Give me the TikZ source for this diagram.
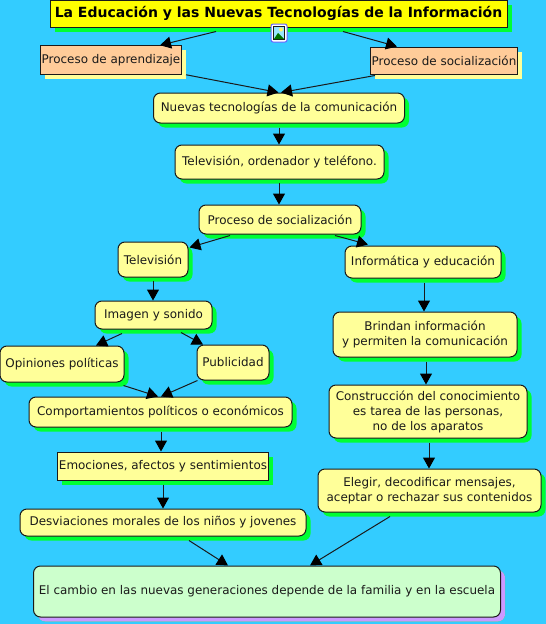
\documentclass[tikz,border=0pt]{standalone}
\usepackage{fontspec}
\setmainfont{DejaVu Sans}
\usetikzlibrary{arrows.meta,shadows}
\definecolor{skyback}  {HTML}{33CCFF}
\definecolor{ink}      {HTML}{1A1A1A}
\definecolor{shadegreen}{HTML}{00FF33}
\definecolor{shadelilac}{HTML}{CC99FF}
\definecolor{paleyellow}{HTML}{FFFF99}
\definecolor{titleyellow}{HTML}{FFFF00}
\definecolor{peach}    {HTML}{FFCC99}
\definecolor{palegreen}{HTML}{CCFFCC}
\tikzset{
  conceptbox/.style={draw=ink,line width=1pt,fill=paleyellow,inner sep=0pt,align=center,text=ink,
    drop shadow={shadow xshift=4.5pt,shadow yshift=-4.5pt,opacity=1,fill=shadegreen}},
  roundbox/.style={conceptbox,rounded corners=7pt},
  titlebox/.style={conceptbox,fill=titleyellow,text=black,font=\fontsize{14}{16}\selectfont\bfseries},
  peachbox/.style={conceptbox,fill=peach,
    drop shadow={shadow xshift=4.5pt,shadow yshift=-4.5pt,opacity=1,fill=paleyellow}},
  endbox/.style={roundbox,fill=palegreen,
    drop shadow={shadow xshift=4.5pt,shadow yshift=-4.5pt,opacity=1,fill=shadelilac}},
  link/.style={draw=ink,line width=1pt,-{Triangle[length=11pt,width=12pt,color=black]}},
}
\begin{document}
\begin{tikzpicture}[x=1pt,y=-1pt,font=\fontsize{11.95}{15}\selectfont]
  \useasboundingbox (0,0) rectangle (546,624);
  \fill[skyback] (0,0) rectangle (546,624);

  % top row
  \node[titlebox,minimum width=457pt,minimum height=27pt] (title) at (278.5,13.5) {La Educación y las Nuevas Tecnologías de la Información};
  \node[peachbox,minimum width=141pt,minimum height=28.5pt] (aprend) at (111,60) {Proceso de aprendizaje};
  \node[peachbox,minimum width=147.5pt,minimum height=27pt] (socialtop) at (444,60.5) {Proceso de socialización};

  % middle column
  \node[roundbox,minimum width=251pt,minimum height=30pt] (nuevas) at (279,108) {Nuevas tecnologías de la comunicación};
  \node[roundbox,minimum width=209pt,minimum height=34pt] (tvord) at (279.5,162) {Televisión, ordenador y teléfono.};
  \node[roundbox,minimum width=162pt,minimum height=29pt] (social) at (280,219.5) {Proceso de socialización};

  % left branch
  \node[roundbox,minimum width=70pt,minimum height=35pt] (telev) at (153,259.5) {Televisión};
  \node[roundbox,minimum width=117pt,minimum height=28pt] (imagen) at (153.5,315) {Imagen y sonido};
  \node[roundbox,minimum width=124pt,minimum height=36pt] (opinion) at (62,364) {Opiniones políticas};
  \node[roundbox,minimum width=72pt,minimum height=35pt] (public) at (233,362.5) {Publicidad};
  \node[roundbox,minimum width=263pt,minimum height=30pt] (comport) at (160.5,412) {Comportamientos políticos o económicos};
  \node[conceptbox,minimum width=211.5pt,minimum height=28pt] (emocion) at (163,466) {Emociones, afectos y sentimientos};
  \node[roundbox,minimum width=286pt,minimum height=27pt] (desvia) at (163,522.5) {Desviaciones morales de los niños y jovenes};

  % right branch
  \node[roundbox,minimum width=156pt,minimum height=32pt] (inform) at (423,262) {Informática y educación};
  \node[roundbox,minimum width=184pt,minimum height=45pt] (brindan) at (425,334.5) {Brindan información\\y permiten la comunicación};
  \node[roundbox,minimum width=198pt,minimum height=53pt] (constr) at (428,411.5) {Construcción del conocimiento\\es tarea de las personas,\\no de los aparatos};
  \node[roundbox,minimum width=223pt,minimum height=43pt] (elegir) at (429.5,490.5) {Elegir, decodificar mensajes,\\aceptar o rechazar sus contenidos};
  \node[endbox,minimum width=467pt,minimum height=51pt] (cambio) at (267,591.5) {El cambio en las nuevas generaciones depende de la familia y en la escuela};

  \draw[link] ([xshift=-62.5pt,yshift=-4pt]title.south) -- ([xshift=49pt]aprend.north);
  \draw[link] ([xshift=64.5pt,yshift=-4pt]title.south) -- ([xshift=-47pt]socialtop.north);
  \draw[link] ([xshift=4pt]aprend.south east) -- ([xshift=-0.5pt]nuevas.north);
  \draw[link] ([xshift=-69pt,yshift=-1pt]socialtop.south) -- ([xshift=2pt]nuevas.north);
  \draw[link] ([yshift=-4pt]nuevas.south) -- ([xshift=-0.5pt]tvord.north);
  \draw[link] ([xshift=-0.5pt,yshift=-3pt]tvord.south) -- ([xshift=-1pt]social.north);
  \draw[link] ([xshift=-50pt,yshift=-1pt]social.south) -- ([xshift=1pt,yshift=-6pt]telev.north east);
  \draw[link] ([xshift=55pt,yshift=-1pt]social.south) -- ([xshift=-55pt,yshift=1pt]inform.north);
  \draw[link] ([yshift=-3pt]telev.south) -- ([xshift=-0.5pt]imagen.north);
  \draw[link] ([xshift=-31.5pt,yshift=-4pt]imagen.south) -- ([xshift=34pt]opinion.north);
  \draw[link] ([xshift=27.5pt,yshift=-3pt]imagen.south) -- ([xshift=-30pt]public.north);
  \draw[link] ([xshift=-1pt,yshift=-3pt]opinion.south east) -- ([xshift=-2.5pt]comport.north);
  \draw[link] ([xshift=1pt]public.south west) -- ([xshift=0.5pt]comport.north);
  \draw[link] ([xshift=0.5pt,yshift=-4pt]comport.south) -- ([xshift=-2pt]emocion.north);
  \draw[link] ([yshift=-4pt]emocion.south) -- (desvia.north);
  \draw[link] ([xshift=26pt,yshift=-4pt]desvia.south) -- ([xshift=-39pt]cambio.north);
  \draw[link] ([xshift=-39.5pt,yshift=-4pt]elegir.south) -- ([xshift=43pt]cambio.north);
  \draw[link] ([xshift=1pt,yshift=-4pt]inform.south) -- ([xshift=-1pt]brindan.north);
  \draw[link] ([xshift=1pt,yshift=-4pt]brindan.south) -- ([xshift=-2pt]constr.north);
  \draw[link] ([xshift=1pt,yshift=-4pt]constr.south) -- ([xshift=-0.5pt]elegir.north);

  % picture icon under the title
  \node[draw=blue!60!white,fill=white,rounded corners=2pt,line width=1pt,minimum width=16pt,minimum height=18pt,inner sep=0pt] (icon) at (279,33) {};
  \draw[ink,fill=skyback!50!white,line width=0.5pt] (273.5,26.5) rectangle (284.5,39.5);
  \fill[green!45!black] (273.8,39.2) -- (278,33) -- (284.2,39.2) -- cycle;
  \fill[yellow!60!white] (281,29.5) circle (2pt);
\end{tikzpicture}
\end{document}
